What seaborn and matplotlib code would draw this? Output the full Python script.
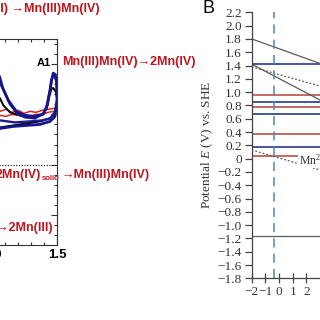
import numpy as np
import pandas as pd
import matplotlib.pyplot as plt
import seaborn as sns

# ---- panel A: cyclic voltammograms (E in V, j arbitrary units)
E_blue1 = [1.500, 1.495, 1.482, 1.469, 1.455, 1.444, 1.418, 1.390, 1.328, 1.252, 1.188, 1.123, 1.059, 0.998,
           0.998, 1.059, 1.162, 1.265, 1.367, 1.444, 1.482, 1.500]
j_blue1 = [0.67, 0.84, 0.90, 0.91, 0.84, 0.74, 0.575, 0.50, 0.48, 0.49, 0.525, 0.64, 0.82, 0.98,
           0.34, 0.36, 0.38, 0.39, 0.40, 0.43, 0.48, 0.67]
E_blue2 = [1.500, 1.494, 1.478, 1.462, 1.446, 1.425, 1.398, 1.328, 1.252, 1.198, 1.136, 1.082, 1.059, 0.998,
           0.998, 1.059, 1.175, 1.290, 1.382, 1.444, 1.482, 1.500]
j_blue2 = [0.64, 0.82, 0.885, 0.87, 0.76, 0.60, 0.51, 0.46, 0.47, 0.50, 0.60, 0.76, 0.87, 1.02,
           0.42, 0.44, 0.42, 0.43, 0.44, 0.46, 0.52, 0.64]
E_black = [1.500, 1.490, 1.471, 1.457, 1.440, 1.421, 1.390, 1.313, 1.213, 1.136, 1.085, 1.059, 0.998,
           0.998, 1.059, 1.213, 1.367, 1.444, 1.482, 1.500]
j_black = [0.62, 0.72, 0.76, 0.76, 0.69, 0.57, 0.50, 0.48, 0.49, 0.52, 0.59, 0.66, 0.74,
           0.36, 0.37, 0.40, 0.43, 0.46, 0.52, 0.62]
E_red = [0.998, 1.059, 1.105, 1.151, 1.198, 1.244, 1.290, 1.336, 1.382, 1.428, 1.475, 1.500]
j_red1 = [0.54, 0.53, 0.55, 0.52, 0.54, 0.51, 0.53, 0.52, 0.54, 0.55, 0.56, 0.55]
j_red2 = [0.48, 0.49, 0.48, 0.50, 0.49, 0.49, 0.48, 0.50, 0.50, 0.52, 0.53, 0.55]

# ---- panel B: potential levels vs pH
pH_range = [-2, 3]
red_levels = [0.96, 0.77, 0.375, 0.035]
blue_levels = [1.43, 0.85, 0.675, 0.17]
gray_level = -1.17
solid_lines = [[1.80, 1.43], [1.42, 0.88]]
dotted_lines = [[1.38, 1.09], [0.13, -0.17]]
pH_dashed = -0.4
yticks_b = np.round(np.arange(-1.8, 2.21, 0.2), 1)
xticks_b = [-2, -1, 0, 1, 2]

sns.set_style("ticks")
plt.rcParams["mathtext.fontset"] = "custom"
plt.rcParams["mathtext.it"] = "Liberation Serif:italic"
plt.rcParams["mathtext.rm"] = "Liberation Serif"

fig = plt.figure(figsize=(3.2, 3.2), dpi=100)
W = 320.0

# panel A
ax_a = fig.add_axes([-7.7 / W, 1 - 245 / W, 65 / W, 206 / W])
ax_a.axhline(0, color="black", lw=0.8, ls=(0, (1, 1.5)))
sns.lineplot(x=E_red, y=j_red1, sort=False, estimator=None, color="#e0201c", lw=1.1, ax=ax_a)
sns.lineplot(x=E_red, y=j_red2, sort=False, estimator=None, color="#d8281c", lw=1.1, ax=ax_a)
sns.lineplot(x=E_black, y=j_black, sort=False, estimator=None, color="black", lw=1.4, ax=ax_a)
sns.lineplot(x=E_blue2, y=j_blue2, sort=False, estimator=None, color="#1a1a8c", lw=1.7, ax=ax_a)
sns.lineplot(x=E_blue1, y=j_blue1, sort=False, estimator=None, color="#16168a", lw=2.0, ax=ax_a)
ax_a.set_xlim(1.0, 1.5)
ax_a.set_ylim(-0.8, 1.25)
ax_a.set_xticks([1.0, 1.5])
ax_a.set_xticklabels(["1.0", "1.5"], fontsize=9.5, fontweight="bold",
                     family=["Liberation Sans", "DejaVu Sans"])
ax_a.xaxis.set_minor_locator(plt.MultipleLocator(0.1))
ax_a.yaxis.set_major_locator(plt.MultipleLocator(0.5))
ax_a.yaxis.set_minor_locator(plt.MultipleLocator(0.1))
ax_a.tick_params(which="both", direction="in", top=True, right=True, left=False, labelleft=False,
                 colors="#333333", labelcolor="black", width=0.8)
ax_a.tick_params(which="major", length=4, pad=3)
ax_a.tick_params(which="minor", length=2)
for s in ax_a.spines.values():
    s.set_color("#333333")
    s.set_linewidth(0.8)

# panel A annotations
red_txt = "#c0141e"
fam = ["Liberation Sans", "DejaVu Sans"]
fs = 9
fig.text(100 / W, 1 - 9 / W, "2Mn(III) \u2192Mn(III)Mn(IV)", ha="right", va="center",
         color=red_txt, fontsize=fs, fontweight="bold", family=fam)
fig.text(44 / W, 1 - 63 / W, "A1", ha="center", va="center", color="black",
         fontsize=8, fontweight="bold", family=fam)
fig.text(62 / W, 1 - 62 / W, "Mn(III)Mn(IV)\u21922Mn(IV)", ha="left", va="center",
         color=red_txt, fontsize=fs, fontweight="bold", family=fam)
fig.text(41 / W, 1 - 175 / W, "2Mn(IV)", ha="right", va="center",
         color=red_txt, fontsize=fs, fontweight="bold", family=fam)
fig.text(42 / W, 1 - 179 / W, "solid", ha="left", va="center",
         color=red_txt, fontsize=5.5, fontweight="bold", family=fam)
fig.text(150 / W, 1 - 175 / W, "\u2192Mn(III)Mn(IV)", ha="right", va="center",
         color=red_txt, fontsize=fs, fontweight="bold", family=fam)
fig.text(53 / W, 1 - 228 / W, "Mn(III)Mn(IV) \u21922Mn(III)", ha="right", va="center",
         color=red_txt, fontsize=fs, fontweight="bold", family=fam)

# panel B
ax_b = fig.add_axes([251.7 / W, 1 - 278.4 / W, 68.5 / W, 266.1 / W])
serif = ["Liberation Serif", "DejaVu Serif"]
for lvl in red_levels:
    ax_b.axhline(lvl, color="#b8514c", lw=1.2)
for lvl in blue_levels:
    ax_b.axhline(lvl, color="#283a8e", lw=1.2)
ax_b.axhline(gray_level, color="#5a5a5a", lw=0.9)
for ys in solid_lines:
    sns.lineplot(x=pH_range, y=ys, color="#5a5a5a", lw=0.9, ax=ax_b)
for ys in dotted_lines:
    sns.lineplot(x=pH_range, y=ys, color="#5a5a5a", lw=0.9, ls=(0, (1.5, 1.5)), ax=ax_b)
ax_b.axvline(pH_dashed, color="#4f86b0", lw=1.1, ls=(0, (6, 4)))
ax_b.text(1.45, -0.02, r"Mn$^{2+}$", fontsize=8.5, family=serif, va="center", ha="left", color="#333333",
          bbox=dict(facecolor="white", edgecolor="none", pad=0.5))
ax_b.set_xlim(-2, 3)
ax_b.set_ylim(-1.8, 2.2)
ax_b.set_yticks(yticks_b)
ax_b.set_yticklabels([("0" if v == 0 else f"{v:.1f}").replace("-", "\u2212") for v in yticks_b],
                     fontsize=9.5, family=serif, color="#333333")
ax_b.set_xticks(xticks_b)
ax_b.set_xticklabels([str(v).replace("-", "\u2212") for v in xticks_b], fontsize=9.5,
                     family=serif, color="#333333")
ax_b.tick_params(axis="y", direction="out", length=5, width=0.9, color="#444444", pad=2)
ax_b.tick_params(axis="x", direction="inout", length=7, width=0.9, color="#444444", pad=2)
ax_b.set_ylabel(r"Potential $E$ (V) vs. SHE", fontsize=9.5, family=serif, color="#333333", labelpad=2)
sns.despine(ax=ax_b, top=True, right=True)
for s in ["left", "bottom"]:
    ax_b.spines[s].set_color("#444444")
    ax_b.spines[s].set_linewidth(0.9)

fig.text(208 / W, 1 - 8.5 / W, "B", ha="center", va="center", fontsize=13, family=fam, color="black")

fig.savefig("out.png", dpi=100)
